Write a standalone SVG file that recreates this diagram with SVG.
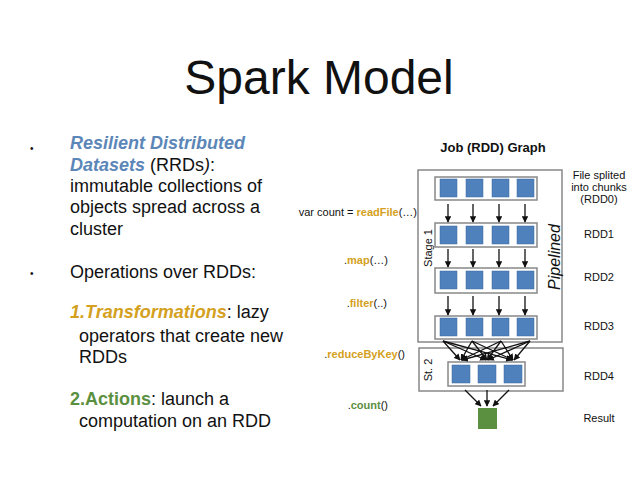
<svg xmlns="http://www.w3.org/2000/svg" width="638" height="479" viewBox="0 0 638 479">
<style>
text{font-family:"Liberation Sans",Arial,sans-serif;fill:#111}
.b{font-size:18px}
.s{font-size:11px}
.box{fill:#fff;stroke:#888;stroke-width:1.5}
.row{fill:#fff;stroke:#888;stroke-width:1.5}
.sq{fill:#4f81bd;stroke:#3a6a9e;stroke-width:0.5}
.or{fill:#d4a020;font-weight:bold}
.gr{fill:#5b9040;font-weight:bold}
.c line{stroke:#111;stroke-width:1.3;marker-end:url(#a)}
</style>
<defs><marker id="a" viewBox="0 0 10 10" refX="9" refY="5" markerWidth="5" markerHeight="5" orient="auto"><path d="M0,0L10,5L0,10z" fill="#111"/></marker></defs>
<rect width="638" height="479" fill="#fff"/>
<text x="319" y="94" font-size="48" text-anchor="middle">Spark Model</text>
<g id="left" class="b">
<text x="30" y="152" font-size="10">•</text>
<text x="70" y="149" style="font-style:italic;font-weight:bold;fill:#5b86b8">Resilient Distributed</text>
<text x="70" y="171"><tspan style="font-style:italic;font-weight:bold;fill:#5b86b8">Datasets</tspan> (RRDs<tspan font-style="italic">)</tspan>:</text>
<text x="70" y="192">immutable collections of</text>
<text x="70" y="213">objects spread across a</text>
<text x="70" y="235">cluster</text>
<text x="30" y="277" font-size="10">•</text>
<text x="70" y="278">Operations over RDDs:</text>
<text x="70" y="318"><tspan style="font-style:italic;font-weight:bold;fill:#d4a020">1.Transformations</tspan>: lazy</text>
<text x="79" y="342">operators that create new</text>
<text x="79" y="363">RDDs</text>
<text x="70" y="405"><tspan style="font-weight:bold;fill:#5b9040">2.Actions</tspan>: launch a</text>
<text x="79" y="427">computation on an RDD</text>
</g>
<text x="493" y="152" font-size="13" font-weight="bold" text-anchor="middle">Job (RDD) Graph</text>
<g id="stage1"><rect class="box" x="418" y="170" width="144" height="172"/>
<text transform="translate(432,248) rotate(-90)" class="s" text-anchor="middle">Stage 1</text>
<text transform="translate(560,257) rotate(-90)" font-size="16" font-style="italic" text-anchor="middle">Pipelined</text></g>
<g id="stage2"><rect class="box" x="419" y="348" width="144" height="43"/>
<text transform="translate(432,370) rotate(-90)" class="s" text-anchor="middle">St. 2</text></g>
<g id="rdd0"><rect class="row" x="435" y="177" width="102" height="23"/><rect class="sq" x="440" y="179" width="17" height="18"/><rect class="sq" x="466" y="179" width="17" height="18"/><rect class="sq" x="492" y="179" width="17" height="18"/><rect class="sq" x="517" y="179" width="17" height="18"/></g>
<g id="rdd1"><rect class="row" x="435" y="223" width="102" height="24"/><rect class="sq" x="440" y="226" width="17" height="18"/><rect class="sq" x="466" y="226" width="17" height="18"/><rect class="sq" x="492" y="226" width="17" height="18"/><rect class="sq" x="517" y="226" width="17" height="18"/></g>
<g id="rdd2"><rect class="row" x="435" y="268" width="102" height="25"/><rect class="sq" x="440" y="271" width="17" height="18"/><rect class="sq" x="466" y="271" width="17" height="18"/><rect class="sq" x="492" y="271" width="17" height="18"/><rect class="sq" x="517" y="271" width="17" height="18"/></g>
<g id="rdd3"><rect class="row" x="435" y="316" width="102" height="23"/><rect class="sq" x="440" y="318" width="17" height="18"/><rect class="sq" x="466" y="318" width="17" height="18"/><rect class="sq" x="492" y="318" width="17" height="18"/><rect class="sq" x="517" y="318" width="17" height="18"/></g>
<g id="rdd4"><rect class="row" x="448" y="362" width="77" height="24"/><rect class="sq" x="452" y="365" width="18" height="18"/><rect class="sq" x="478" y="365" width="18" height="18"/><rect class="sq" x="504" y="365" width="18" height="18"/></g>
<g id="result"><rect x="478" y="408" width="19" height="21" fill="#5b9040"/></g>
<g class="c" id="connectors">
<line x1="448" y1="204" x2="448" y2="222"/><line x1="473" y1="204" x2="473" y2="222"/><line x1="499" y1="204" x2="499" y2="222"/><line x1="525" y1="204" x2="525" y2="222"/>
<line x1="448" y1="249" x2="448" y2="267"/><line x1="473" y1="249" x2="473" y2="267"/><line x1="499" y1="249" x2="499" y2="267"/><line x1="525" y1="249" x2="525" y2="267"/>
<line x1="448" y1="296" x2="448" y2="315"/><line x1="473" y1="296" x2="473" y2="315"/><line x1="499" y1="296" x2="499" y2="315"/><line x1="525" y1="296" x2="525" y2="315"/>
<line x1="443" y1="341" x2="460" y2="360"/><line x1="443" y1="341" x2="486" y2="360"/><line x1="443" y1="341" x2="512" y2="360"/>
<line x1="472" y1="341" x2="461" y2="360"/><line x1="472" y1="341" x2="487" y2="360"/><line x1="472" y1="341" x2="513" y2="360"/>
<line x1="501" y1="341" x2="461" y2="360"/><line x1="501" y1="341" x2="487" y2="360"/><line x1="501" y1="341" x2="513" y2="360"/>
<line x1="530" y1="341" x2="462" y2="360"/><line x1="530" y1="341" x2="488" y2="360"/><line x1="530" y1="341" x2="514" y2="360"/>
<line x1="465" y1="390" x2="481" y2="406"/><line x1="487" y1="390" x2="487" y2="406"/><line x1="509" y1="390" x2="493" y2="406"/>
</g>
<g class="s" text-anchor="middle">
<text x="599" y="179">File splited</text><text x="599" y="191">into chunks</text><text x="599" y="203">(RDD0)</text>
<text x="599" y="238">RDD1</text><text x="599" y="281">RDD2</text><text x="599" y="330">RDD3</text><text x="599" y="380">RDD4</text><text x="599" y="422">Result</text>
</g>
<g class="s" text-anchor="end">
<text x="417" y="216">var count = <tspan class="or">readFile</tspan>(…)</text>
<text x="388" y="264">.<tspan class="or">map</tspan>(…)</text>
<text x="387" y="307">.<tspan class="or">filter</tspan>(..)</text>
<text x="405" y="358">.<tspan class="or">reduceByKey</tspan>()</text>
<text x="388" y="409">.<tspan class="gr">count</tspan>()</text>
</g>
</svg>
